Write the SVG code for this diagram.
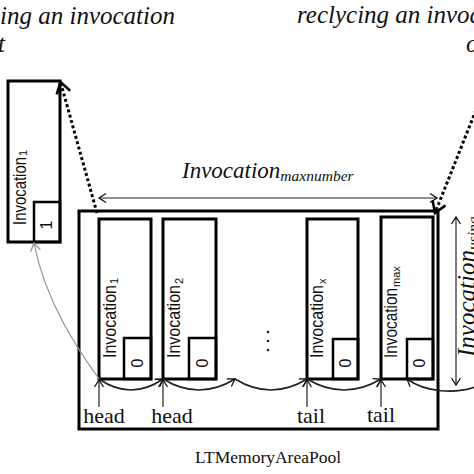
<svg xmlns="http://www.w3.org/2000/svg" width="474" height="474" viewBox="0 0 474 474">
<defs>
<marker id="ah" markerUnits="userSpaceOnUse" markerWidth="20" markerHeight="20" viewBox="-10 -10 20 20" refX="0" refY="0" orient="auto-start-reverse">
<path d="M-7,-4.5 L0,0 L-7,4.5" fill="none" stroke="#111" stroke-width="1.3"/>
</marker>
<marker id="ahg" markerUnits="userSpaceOnUse" markerWidth="20" markerHeight="20" viewBox="-10 -10 20 20" refX="0" refY="0" orient="auto">
<path d="M-8,-5 L0,0 L-8,5" fill="none" stroke="#999" stroke-width="1.3"/>
</marker>
<marker id="ahb" markerUnits="userSpaceOnUse" markerWidth="30" markerHeight="30" viewBox="-15 -15 30 30" refX="0" refY="0" orient="auto">
<path d="M-11,-7 L0,0 L-11,7" fill="none" stroke="#000" stroke-width="2.6"/>
</marker>
</defs>
<style>
.box{fill:#fff;stroke:#000;stroke-width:3}
.inner{fill:none;stroke:#000;stroke-width:2.5}
.lbl{font-family:"Liberation Sans",Arial,sans-serif;font-size:19px;fill:#111}
.sub{font-family:"Liberation Sans",Arial,sans-serif;font-size:11px;fill:#111}
.zero{font-family:"Liberation Sans",Arial,sans-serif;font-size:16px;fill:#111}
.ser{font-family:"Liberation Serif","Times New Roman","DejaVu Serif",serif;fill:#111}
.it{font-family:"Liberation Serif","Times New Roman","DejaVu Serif",serif;font-style:italic;fill:#111}
.arc{fill:none;stroke:#222;stroke-width:1.7;marker-end:url(#ah)}
.ptr{fill:none;stroke:#222;stroke-width:1.2;marker-end:url(#ah)}
.dot{fill:none;stroke:#000;stroke-width:3;stroke-dasharray:3,2.5}
</style>

<!-- titles -->
<text class="it" x="175" y="24" font-size="25" text-anchor="end">ing an invocation</text>
<text class="it" x="-2" y="52" font-size="25">t</text>
<text class="it" x="297" y="23" font-size="25">reclycing an invoc</text>
<text class="it" x="466" y="52" font-size="25">o</text>

<!-- pool -->
<g id="pool">
<rect x="79" y="211" width="359" height="218" fill="none" stroke="#000" stroke-width="3"/>
<text class="ser" x="268" y="463" font-size="17.5" text-anchor="middle">LTMemoryAreaPool</text>
</g>

<!-- allocated invocation (left) -->
<g id="alloc">
<rect class="box" x="8" y="81" width="52" height="161"/>
<rect class="inner" x="34" y="202" width="26" height="40"/>
<text class="lbl" transform="translate(25.5,225) rotate(-90)" font-size="17" textLength="68" lengthAdjust="spacingAndGlyphs">Invocation</text>
<text class="sub" transform="translate(27,156) rotate(-90)" font-size="10">1</text>
<text class="zero" transform="translate(52,225) rotate(-90)" font-size="13" text-anchor="middle">1</text>
</g>

<g id="inv1">
<rect class="box" x="99" y="219" width="52" height="160"/>
<rect class="inner" x="124" y="338" width="27" height="41"/>
<text class="lbl" transform="translate(115.5,358) rotate(-90)" textLength="73" lengthAdjust="spacingAndGlyphs">Invocation</text>
<text class="sub" transform="translate(118,284) rotate(-90)">1</text>
<text class="zero" transform="translate(142.5,363) rotate(-90)" text-anchor="middle">0</text>
</g>
<g id="inv2">
<rect class="box" x="163" y="219" width="53" height="160"/>
<rect class="inner" x="189" y="338" width="27" height="41"/>
<text class="lbl" transform="translate(180,358) rotate(-90)" textLength="73" lengthAdjust="spacingAndGlyphs">Invocation</text>
<text class="sub" transform="translate(182.5,284) rotate(-90)">2</text>
<text class="zero" transform="translate(207.5,363) rotate(-90)" text-anchor="middle">0</text>
</g>
<g id="dots">
<circle cx="268" cy="332" r="1.3" fill="#222"/>
<circle cx="268" cy="341" r="1.3" fill="#222"/>
<circle cx="268" cy="350" r="1.3" fill="#222"/>
</g>
<g id="invx">
<rect class="box" x="307" y="219" width="51" height="160"/>
<rect class="inner" x="333" y="339" width="25" height="40"/>
<text class="lbl" transform="translate(323,358) rotate(-90)" textLength="73" lengthAdjust="spacingAndGlyphs">Invocation</text>
<text class="sub" transform="translate(325.5,284) rotate(-90)">x</text>
<text class="zero" transform="translate(350.5,363) rotate(-90)" text-anchor="middle">0</text>
</g>
<g id="invmax">
<rect class="box" x="381" y="217" width="52" height="162"/>
<rect class="inner" x="407" y="339" width="26" height="40"/>
<text class="lbl" transform="translate(396.5,358) rotate(-90)" textLength="70" lengthAdjust="spacingAndGlyphs">Invocation</text>
<text class="sub" transform="translate(400,287) rotate(-90)">max</text>
<text class="zero" transform="translate(425,363) rotate(-90)" text-anchor="middle">0</text>
</g>

<!-- labels head/tail -->
<g id="labels">
<text class="ser" x="104" y="423" font-size="22" text-anchor="middle">head</text>
<text class="ser" x="172" y="423" font-size="22" text-anchor="middle">head</text>
<text class="ser" x="311" y="423" font-size="22" text-anchor="middle">tail</text>
<text class="ser" x="381" y="422" font-size="22" text-anchor="middle">tail</text>
</g>

<!-- dimension labels -->
<g id="dims">
<text class="it" x="182" y="178" font-size="23">Invocation<tspan font-size="15.5" dy="3">maxnumber</tspan></text>
<text class="it" transform="translate(474.5,357) rotate(-90)" font-size="25">Invocation<tspan font-size="15.5" dy="3">using</tspan></text>
</g>

<g id="connectors">
<line x1="99" y1="198" x2="437" y2="198" stroke="#222" stroke-width="1.2" marker-start="url(#ah)" marker-end="url(#ah)"/>
<line x1="456" y1="217" x2="456" y2="385" stroke="#222" stroke-width="1.2" marker-start="url(#ah)" marker-end="url(#ah)"/>
<path class="arc" d="M99,379 Q131,401 163,379"/>
<path class="arc" d="M163,379 Q199,401 235,379"/>
<path class="arc" d="M235,379 Q271,401 307,379"/>
<path class="arc" d="M307,379 Q344,401 381,379"/>
<path class="arc" d="M478,386 C455,395 425,392 407,379"/>
<line class="ptr" x1="99" y1="407" x2="99" y2="380"/>
<line class="ptr" x1="163" y1="407" x2="163" y2="380"/>
<line class="ptr" x1="307" y1="407" x2="307" y2="380"/>
<line class="ptr" x1="381" y1="407" x2="381" y2="380"/>
<path d="M99,379 C82,355 46,305 34,243" fill="none" stroke="#999" stroke-width="1.3" marker-end="url(#ahg)"/>
<path class="dot" d="M97,213 L60.5,82" marker-end="url(#ahb)"/>
<path class="dot" d="M478,105 L435,213" marker-end="url(#ahb)"/>
</g>
</svg>
